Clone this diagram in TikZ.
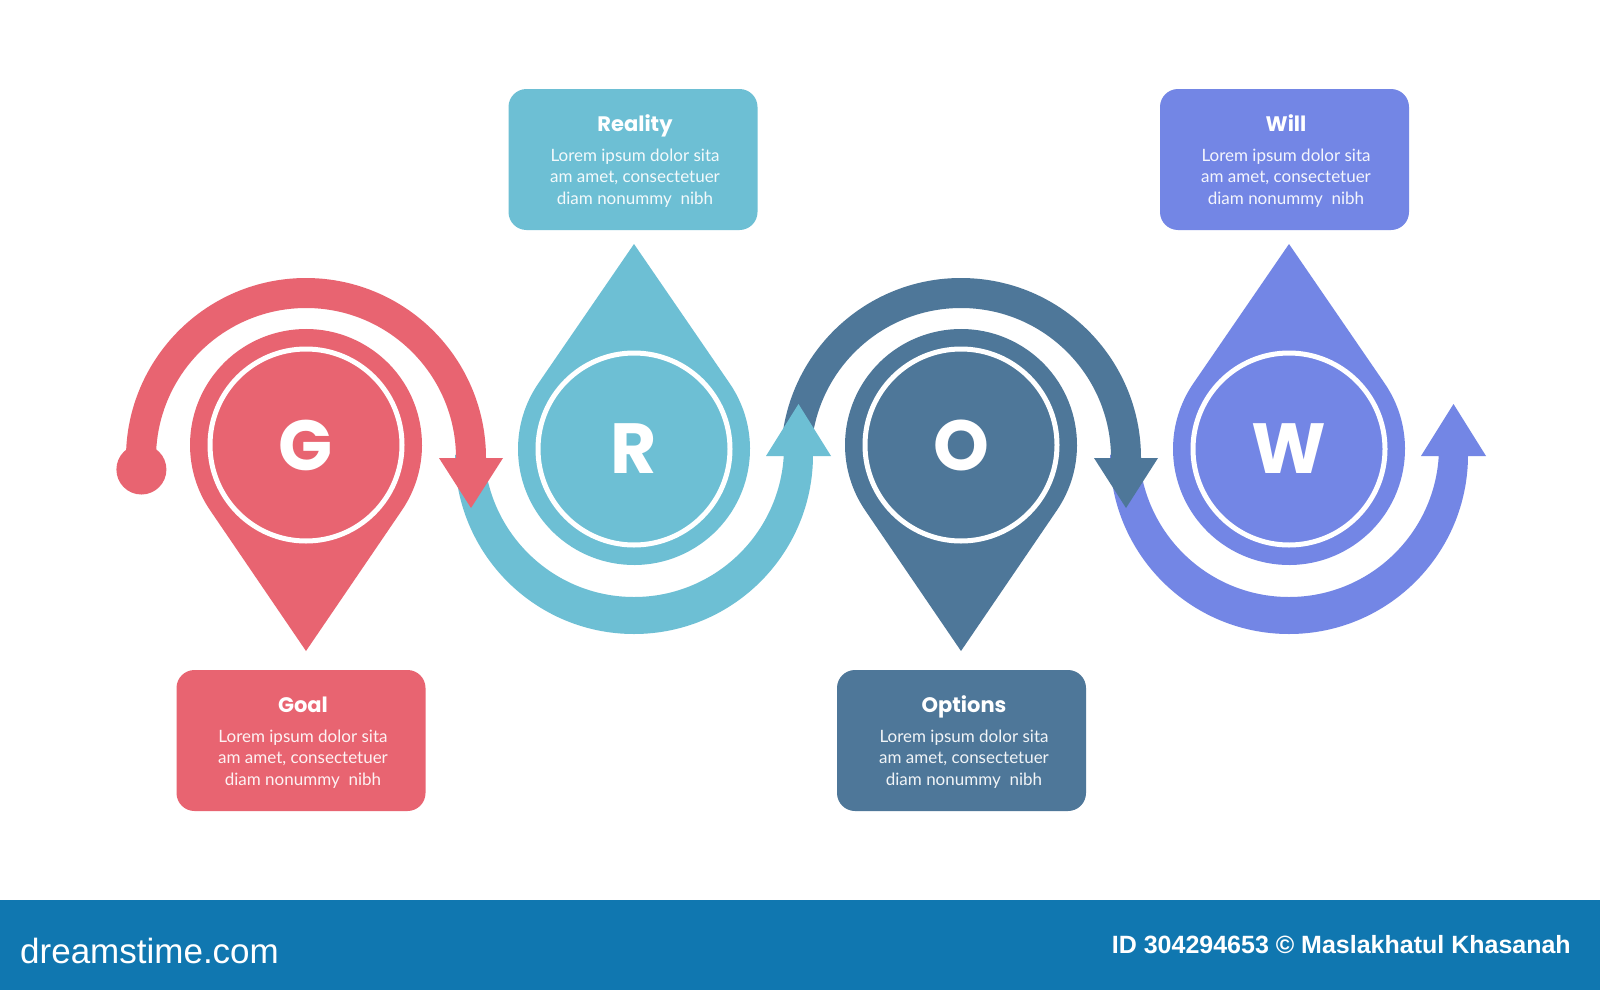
\documentclass[tikz,border=0pt]{standalone}
\usepackage{fontspec}
\setmainfont{Lato}
\newfontfamily\popfont{Poppins}
\newfontfamily\barfont{Liberation Sans}
\usetikzlibrary{calc}
\definecolor{cred}{RGB}{232,100,113}
\definecolor{clb}{RGB}{109,191,212}
\definecolor{cdb}{RGB}{78,119,153}
\definecolor{cpu}{RGB}{115,134,229}
\definecolor{cbar}{RGB}{16,119,176}
\begin{document}
\begin{tikzpicture}[x=1pt,y=-1pt,
  infobox/.style={rounded corners=18pt, minimum width=249pt, minimum height=141pt, inner sep=0pt},
  boxtitle/.style={font=\popfont\bfseries\fontsize{21}{25}\selectfont, text=white, anchor=base, inner sep=0pt},
  boxbody/.style={font=\fontsize{17}{21.5}\selectfont, text=white, text opacity=0.92, align=center, inner sep=0pt},
  letter/.style={font=\popfont\bfseries\fontsize{71}{71}\selectfont, text=white, inner sep=0pt},
  ring/.style={draw=white, line width=5pt},
  barlogo/.style={font=\barfont\fontsize{35}{35}\selectfont, text=white, inner sep=0pt},
  barid/.style={font=\barfont\bfseries\fontsize{25}{25}\selectfont, text=white, inner sep=0pt},
]
\useasboundingbox (0,0) rectangle (1600,990);
\fill[white] (0,0) rectangle (1600,990);

% centres
\coordinate (cG) at (306,445);
\coordinate (cR) at (634,449);
\coordinate (cO) at (961,445);
\coordinate (cW) at (1289,449);

% lower bands (blue, purple)
\fill[clb] ($(634,455)+(180:179)$) arc[start angle=180, end angle=0, radius=179]
  -- ($(634,447)+(0:150)$) arc[start angle=0, end angle=180, radius=150] -- cycle;
\fill[cpu] ($(1289,455)+(180:179)$) arc[start angle=180, end angle=0, radius=179]
  -- ($(1289,447)+(0:150)$) arc[start angle=0, end angle=180, radius=150] -- cycle;

% upper bands (red, dark)
\fill[cred] ($(306,458)+(176:180)$) arc[start angle=176, end angle=360, radius=180]
  -- ($(306,458)+(360:150)$) arc[start angle=360, end angle=176, radius=150] -- cycle;
\fill[cred] ($(306,458)+(176:165)$) circle[radius=25];
\fill[cdb] ($(961,458)+(182:180)$) arc[start angle=182, end angle=360, radius=180]
  -- ($(961,458)+(360:150)$) arc[start angle=360, end angle=182, radius=150] -- cycle;

% arrowheads
\fill[cred] (439,458) -- (503,458) -- (471,508) -- cycle;
\fill[cdb] (1094,458) -- (1158,458) -- (1126,508) -- cycle;
\fill[clb] (766,456) -- (831,456) -- (798.5,404) -- cycle;
\fill[cpu] (1421,456) -- (1486,456) -- (1453.5,404) -- cycle;

% pins (pointing down)
\fill[cred] ($(cG)+(0,206)$) -- ($(cG)+(34.3:116)$) arc[start angle=34.3, end angle=-214.3, radius=116] -- cycle;
\fill[cdb] ($(cO)+(0,206)$) -- ($(cO)+(34.3:116)$) arc[start angle=34.3, end angle=-214.3, radius=116] -- cycle;
% drops (pointing up)
\fill[clb] ($(cR)+(0,-205)$) -- ($(cR)+(-34.5:116)$) arc[start angle=-34.5, end angle=214.5, radius=116] -- cycle;
\fill[cpu] ($(cW)+(0,-205)$) -- ($(cW)+(-34.5:116)$) arc[start angle=-34.5, end angle=214.5, radius=116] -- cycle;

% rings and letters
\draw[ring] (cG) circle[radius=96];
\draw[ring] (cR) circle[radius=96];
\draw[ring] (cO) circle[radius=96];
\draw[ring] (cW) circle[radius=96];
\node[letter] (lG) at (cG) {G};
\node[letter] (lR) at (cR) {R};
\node[letter] (lO) at (cO) {O};
\node[letter] (lW) at (cW) {W};

% boxes
\node[infobox, fill=clb] (bR) at (633,159.5) {};
\node[infobox, fill=cpu] (bW) at (1284.5,159.5) {};
\node[infobox, fill=cred] (bG) at (301,740.5) {};
\node[infobox, fill=cdb] (bO) at (961.5,740.5) {};

\node[boxtitle] (tR) at (635,131) {Reality};
\node[boxtitle] (tW) at (1286,131) {Will};
\node[boxtitle] (tG) at (303,712) {Goal};
\node[boxtitle] (tO) at (964,712) {Options};

\node[boxbody] (dR) at (635,178) {Lorem ipsum dolor sita\\am amet, consectetuer\\diam nonummy~ nibh};
\node[boxbody] (dW) at (1286,178) {Lorem ipsum dolor sita\\am amet, consectetuer\\diam nonummy~ nibh};
\node[boxbody] (dG) at (303,759) {Lorem ipsum dolor sita\\am amet, consectetuer\\diam nonummy~ nibh};
\node[boxbody] (dO) at (964,759) {Lorem ipsum dolor sita\\am amet, consectetuer\\diam nonummy~ nibh};

% bottom bar
\fill[cbar] (0,900) rectangle (1600,990);
\node[barlogo, anchor=base west] (logo) at (20,963) {dreamstime.com};
\node[barid, anchor=base east] (idtext) at (1571,953) {ID 304294653 © Maslakhatul Khasanah};
\end{tikzpicture}
\end{document}
